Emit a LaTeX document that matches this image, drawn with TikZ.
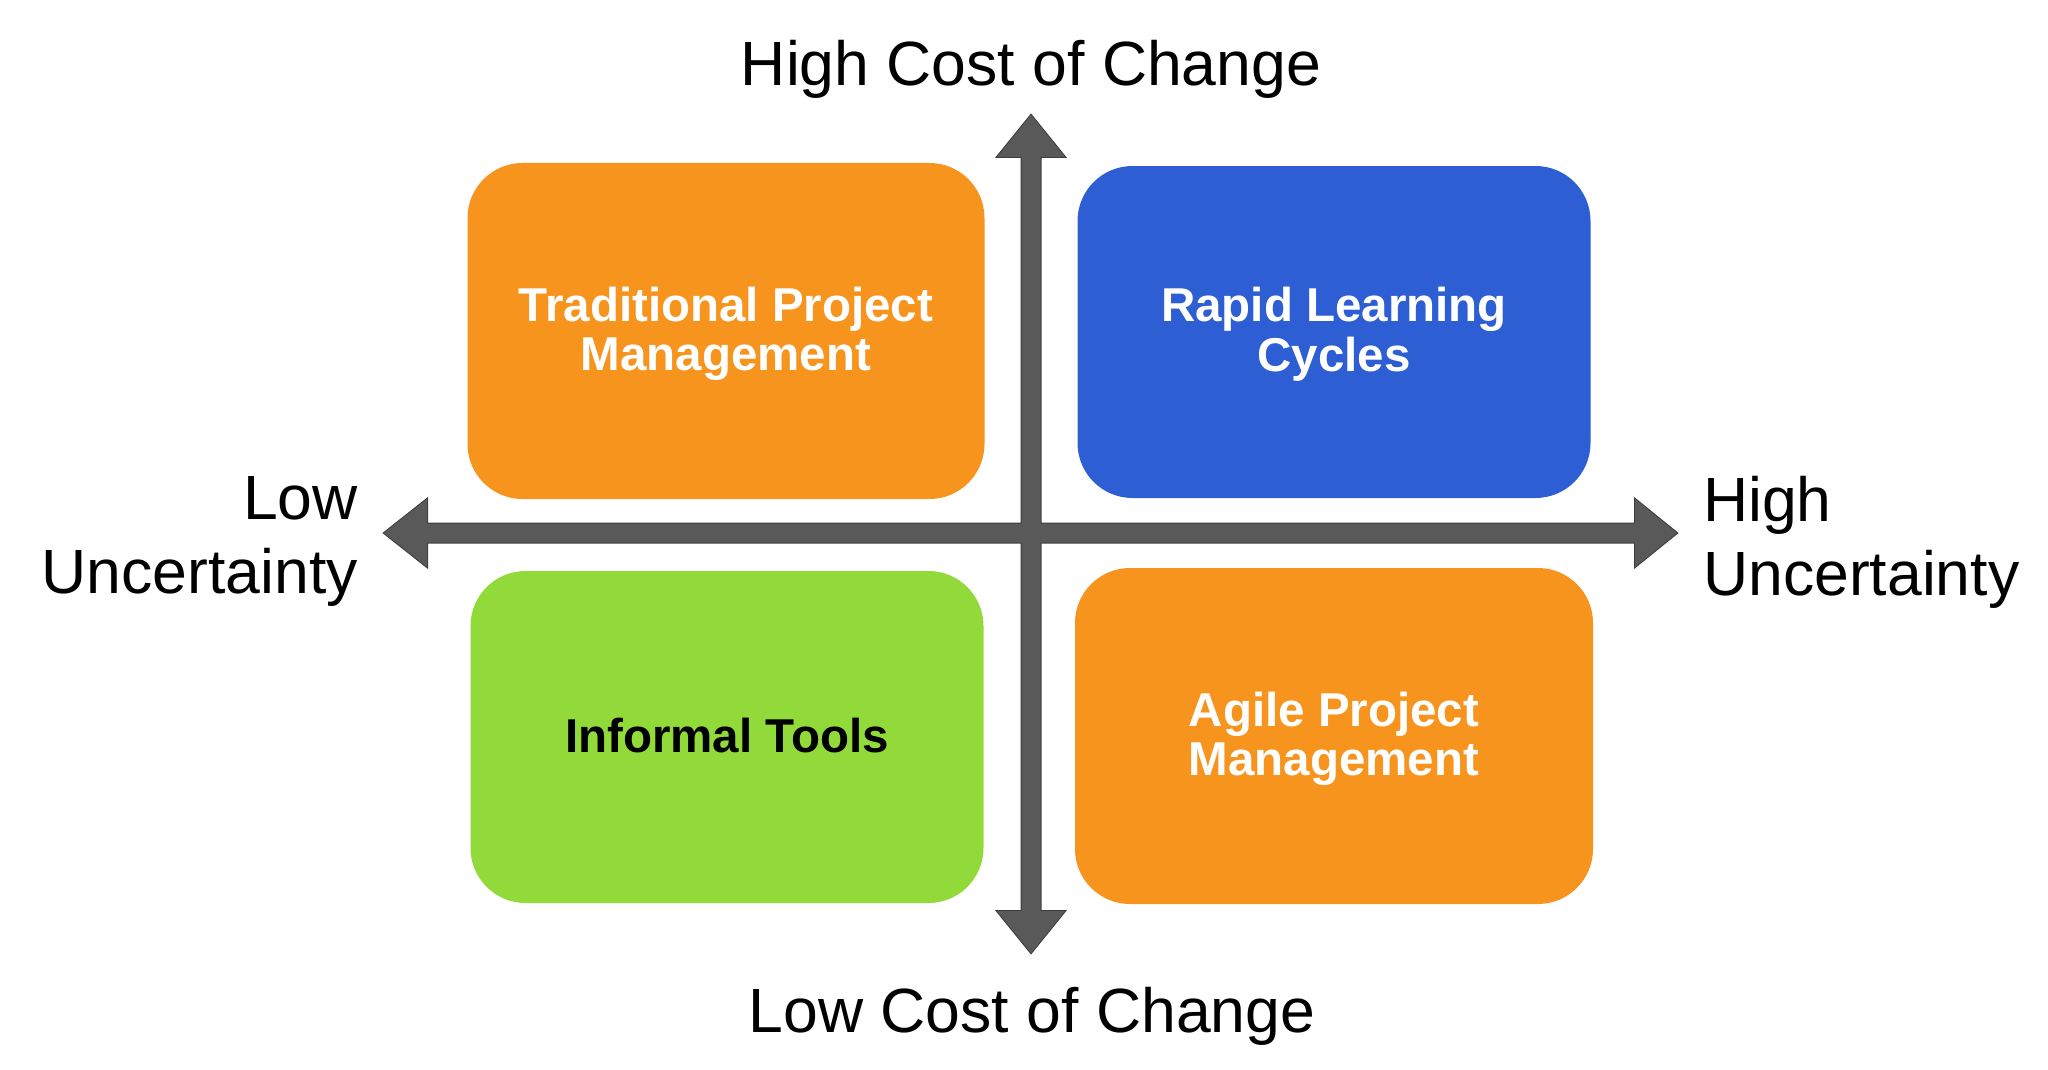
\documentclass[tikz,border=0pt]{standalone}
\usepackage{fontspec}
\setmainfont{Liberation Sans}
\definecolor{qorange}{RGB}{247,148,30}
\definecolor{qblue}{RGB}{46,94,211}
\definecolor{qgreen}{RGB}{146,217,58}
\definecolor{qgray}{RGB}{89,89,89}
\definecolor{qedge}{RGB}{60,60,60}
\begin{document}
\begin{tikzpicture}[x=1pt,y=-1pt,
  quad/.style={rounded corners=55pt, inner sep=0pt, align=center,
    font=\fontsize{47.5}{49.5}\selectfont\bfseries},
  axislabel/.style={inner sep=0pt, font=\fontsize{62.5}{74}\selectfont},
  axisfill/.style={fill=qgray},
  axisedge/.style={draw=qedge, line width=2pt, line join=miter}]
\useasboundingbox (0,0) rectangle (2048,1070);
% quadrants
\node[quad, fill=qorange, minimum width=517pt, minimum height=336pt] (tl) at (726,331) {};
\node[quad, text=white] (tltext) at (726,334) {Traditional Project\\Management};
\node[quad, fill=qblue, minimum width=513pt, minimum height=332pt] (tr) at (1334,332) {};
\node[quad, text=white] (trtext) at (1334,334) {Rapid Learning\\Cycles};
\node[quad, fill=qgreen, minimum width=513pt, minimum height=332pt] (bl) at (727,737) {};
\node[quad, text=black] (bltext) at (727,736) {Informal Tools};
\node[quad, fill=qorange, minimum width=518pt, minimum height=336pt] (br) at (1334,736) {};
\node[quad, text=white] (brtext) at (1334,739) {Agile Project\\Management};
% axes
\coordinate (o) at (1031,533);
\def\vpath{(1021.5,157) -- (997,157) -- (1031,115) -- (1065,157) -- (1040.5,157) -- (1040.5,911) -- (1065,911) -- (1031,953) -- (997,911) -- (1021.5,911) -- cycle}
\def\hpath{(427,523.5) -- (427,499) -- (384,533) -- (427,567) -- (427,542.5) -- (1635,542.5) -- (1635,567) -- (1677,533) -- (1635,499) -- (1635,523.5) -- cycle}
\draw[axisedge] \vpath;
\draw[axisedge] \hpath;
\fill[axisfill] \vpath;
\fill[axisfill] \hpath;
% axis labels
\node[axislabel, anchor=base] (top) at (1031,86) {High Cost of Change};
\node[axislabel, anchor=base] (bottom) at (1032,1032) {Low Cost of Change};
\node[axislabel, anchor=north east, align=right] (left) at (358,476) {Low\\Uncertainty};
\node[axislabel, anchor=north west, align=left] (right) at (1703,476) {High\\Uncertainty};
\end{tikzpicture}
\end{document}
